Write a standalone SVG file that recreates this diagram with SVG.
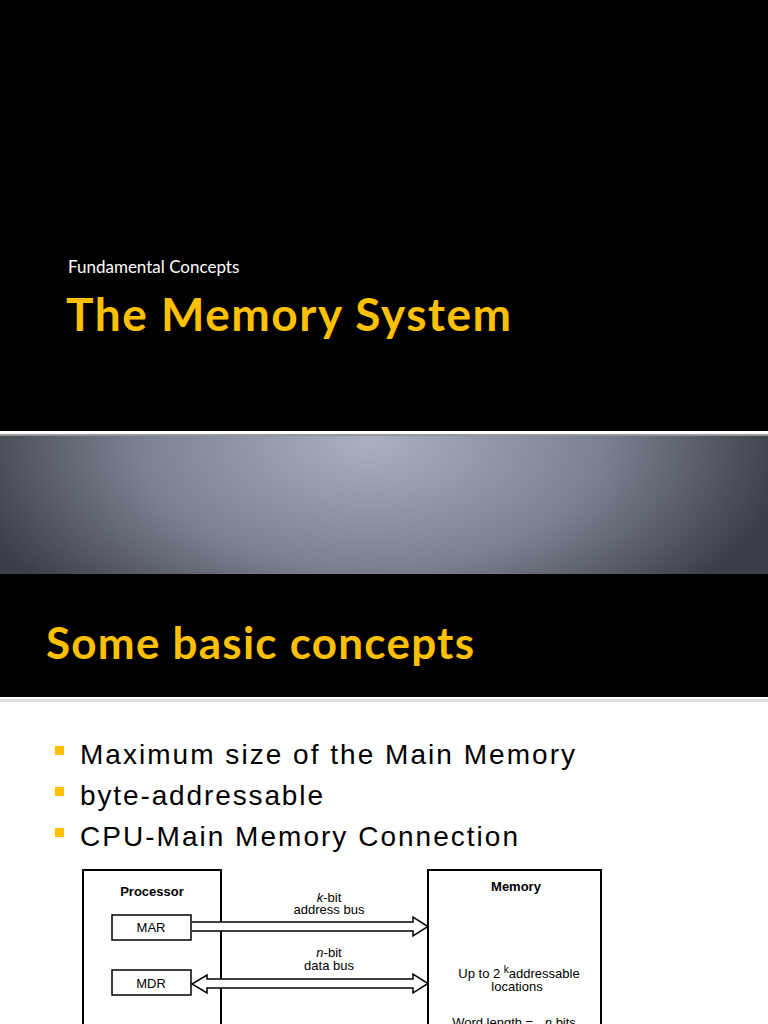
<svg xmlns="http://www.w3.org/2000/svg" width="768" height="1024" viewBox="0 0 768 1024">
<defs>
<radialGradient id="g" gradientUnits="userSpaceOnUse" cx="370" cy="440" r="420" gradientTransform="translate(370,440) scale(1,0.55) translate(-370,-440)">
<stop offset="0" stop-color="#aab0bf"/><stop offset="0.55" stop-color="#7c8190"/><stop offset="1" stop-color="#3a3e48"/>
</radialGradient>
<style>
.t{font-family:"Lato","Liberation Sans",sans-serif}
.y{fill:#ffc000;font-weight:bold}
.b{font-family:"Liberation Sans",sans-serif;font-size:28px;fill:#000}
.s{font-family:"Liberation Sans",sans-serif;font-size:13px;fill:#000;text-anchor:middle}
.box{fill:#fff;stroke:#000;stroke-width:2}
.bus{fill:#fff;stroke:#000;stroke-width:1.5}
</style>
</defs>
<rect width="768" height="1024" fill="#fff"/>
<rect width="768" height="431" fill="#000"/>
<text class="t" x="68" y="273" font-size="17" fill="#fff">Fundamental Concepts</text>
<text class="t y" x="66" y="331" font-size="46" textLength="445">The Memory System</text>
<rect y="434" width="768" height="2" fill="#999"/>
<rect y="436" width="768" height="139" fill="url(#g)"/>
<rect y="574" width="768" height="123" fill="#000"/>
<text class="t y" x="46" y="659" font-size="44" textLength="428">Some basic concepts</text>
<rect y="699" width="768" height="3" fill="#ddd"/>
<g id="bullets">
<rect x="55" y="746" width="9" height="9" fill="#ffc000"/>
<text class="b" x="80" y="764" textLength="495">Maximum size of the Main Memory</text>
<rect x="55" y="787" width="9" height="9" fill="#ffc000"/>
<text class="b" x="80" y="805" textLength="243">byte-addressable</text>
<rect x="55" y="828" width="9" height="9" fill="#ffc000"/>
<text class="b" x="80" y="846" textLength="438">CPU-Main Memory Connection</text>
</g>
<g id="processor">
<rect class="box" x="83" y="870" width="138" height="170"/>
<text class="s" x="152" y="896" font-weight="bold">Processor</text>
</g>
<g id="mar"><rect class="bus" x="112" y="915" width="79" height="25"/><text class="s" x="151" y="932">MAR</text></g>
<g id="mdr"><rect class="bus" x="112" y="970" width="79" height="25"/><text class="s" x="151" y="988">MDR</text></g>
<g id="memory">
<rect class="box" x="428" y="870" width="173" height="170"/>
<text class="s" x="516" y="891" font-weight="bold">Memory</text>
<text class="s" x="519" y="978">Up to 2 <tspan font-size="10" dy="-5">k</tspan><tspan dy="5">addressable</tspan></text>
<text class="s" x="517" y="991">locations</text>
<text class="s" x="514" y="1027">Word length = <tspan dx="8" font-style="italic">n</tspan> bits</text>
</g>
<g id="connectors">
<path class="bus" d="M192,922 H413 V917 L428,926.5 L413,936 V931 H192"/>
<path class="bus" d="M192,984 L207,975 V979 H413 V974 L428,983.5 L413,993 V988 H207 V993 Z"/>
<text class="s" x="329" y="902"><tspan font-style="italic">k</tspan>-bit</text>
<text class="s" x="329" y="914">address bus</text>
<text class="s" x="329" y="957"><tspan font-style="italic">n</tspan>-bit</text>
<text class="s" x="329" y="970">data bus</text>
</g>
</svg>
